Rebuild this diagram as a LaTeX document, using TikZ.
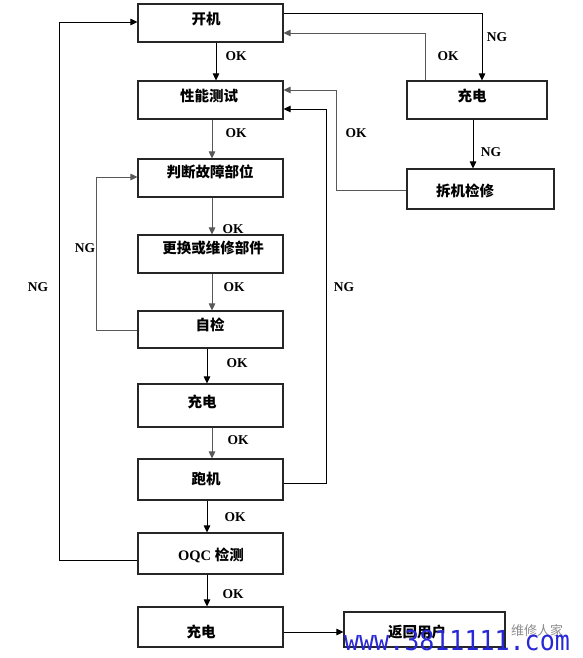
\documentclass[tikz,border=0pt]{standalone}
\usepackage{fontspec}
\setmainfont{Liberation Serif}
\newfontfamily\cjk{Noto Sans CJK SC}
\newfontfamily\wmmono{DejaVu Sans Mono}
\usetikzlibrary{arrows.meta}
\begin{document}
\begin{tikzpicture}[x=1pt,y=-1pt,
  box/.style={draw=black!85,line width=1.1pt,rectangle,inner sep=0pt},
  txt/.style={font=\cjk\bfseries\fontsize{14.5}{14.5}\selectfont,inner sep=0pt},
  lab/.style={font=\bfseries\fontsize{13.5}{13.5}\selectfont,inner sep=0pt},
  arr/.style={draw=black,line width=0.9pt,-{Triangle[length=7pt,width=6.5pt]}},
  garr/.style={arr,draw=black!65},
  ln/.style={draw=black,line width=0.9pt}]
\useasboundingbox (0,0) rectangle (583,658);
% boxes
\node[box,minimum width=145pt,minimum height=38pt] (kaiji) at (210.5,23) {};
\node[box,minimum width=145pt,minimum height=38pt] (xingneng) at (210.5,100) {};
\node[box,minimum width=145pt,minimum height=38pt] (panduan) at (210.5,178) {};
\node[box,minimum width=145pt,minimum height=38pt] (genghuan) at (210.5,254) {};
\node[box,minimum width=145pt,minimum height=37pt] (zijian) at (210.5,329.5) {};
\node[box,minimum width=145pt,minimum height=43pt] (chong1) at (210.5,405.5) {};
\node[box,minimum width=145pt,minimum height=41pt] (paoji) at (210.5,479.5) {};
\node[box,minimum width=145pt,minimum height=41pt] (oqc) at (210.5,553.5) {};
\node[box,minimum width=145pt,minimum height=40pt] (chong2) at (210.5,627) {};
\node[box,minimum width=161pt,minimum height=35pt] (fanhui) at (424.5,629.5) {};
\node[box,minimum width=140pt,minimum height=38pt] (chongR) at (477,100) {};
\node[box,minimum width=147pt,minimum height=40pt] (chaiji) at (480.5,189) {};
% texts
\node[txt] (t1) at (206,19) {开机};
\node[txt] (t2) at (209,96) {性能测试};
\node[txt] (t3) at (210,172) {判断故障部位};
\node[txt] (t4) at (213,248) {更换或维修部件};
\node[txt] (t5) at (210,325) {自检};
\node[txt] (t6) at (202,402) {充电};
\node[txt] (t7) at (206,479) {跑机};
\node[inner sep=0pt] (t8) at (211,555) {\fontsize{14.5}{14.5}\selectfont\bfseries OQC {\cjk 检测}};
\node[txt] (t9) at (201,632) {充电};
\node[txt] (t10) at (417,632) {返回用户};
\node[txt] (t11) at (472,96) {充电};
\node[txt] (t12) at (465,191) {拆机检修};
% vertical arrows
\draw[arr] ([xshift=5.5pt]kaiji.south) -- ([xshift=5.5pt]kaiji.south |- xingneng.north);
\draw[garr] ([xshift=1.5pt]xingneng.south) -- ([xshift=1.5pt]xingneng.south |- panduan.north);
\draw[garr] ([xshift=1.5pt]panduan.south) -- ([xshift=1.5pt]panduan.south |- genghuan.north);
\draw[garr] ([xshift=1.5pt]genghuan.south) -- ([xshift=1.5pt]genghuan.south |- zijian.north);
\draw[arr] ([xshift=-3.5pt]zijian.south) -- ([xshift=-3.5pt]zijian.south |- chong1.north);
\draw[garr] ([xshift=1.5pt]chong1.south) -- ([xshift=1.5pt]chong1.south |- paoji.north);
\draw[arr] ([xshift=-3.5pt]paoji.south) -- ([xshift=-3.5pt]paoji.south |- oqc.north);
\draw[arr] ([xshift=-3.5pt]oqc.south) -- ([xshift=-3.5pt]oqc.south |- chong2.north);
\draw[arr] ([yshift=-5pt]chong2.east) -- ([yshift=-5pt]chong2.east -| fanhui.west);
\draw[arr] ([xshift=-4pt]chongR.south) -- ([xshift=-4pt]chongR.south |- chaiji.north);
% loops
\draw[arr] ([yshift=10pt]kaiji.east) -| ([xshift=5pt]chongR.north);
\draw[garr] ([xshift=-52pt]chongR.north) |- ([yshift=-10pt]kaiji.east);
\draw[garr] ([yshift=-1.5pt]chaiji.west) -- ++(-70,0) |- ([yshift=10pt]xingneng.east);
\draw[arr] ([yshift=-3.5pt]paoji.east) -- ++(43,0) |- ([yshift=-9pt]xingneng.east);
\draw[arr] ([yshift=-6.5pt]oqc.west) -- ++(-78,0) |- ([yshift=1pt]kaiji.west);
\draw[garr] ([yshift=-0.5pt]zijian.west) -- ++(-41,0) |- ([yshift=1pt]panduan.west);
% labels
\node[lab] (ok1) at (236,56) {OK};
\node[lab] (ok2) at (236,133) {OK};
\node[lab] (ok3) at (233,229) {OK};
\node[lab] (ok4) at (234,287) {OK};
\node[lab] (ok5) at (237,363) {OK};
\node[lab] (ok6) at (238,440) {OK};
\node[lab] (ok7) at (235,517) {OK};
\node[lab] (ok8) at (233,594) {OK};
\node[lab] (ok9) at (448,56) {OK};
\node[lab] (ok10) at (356,133) {OK};
\node[lab] (ng1) at (497,37) {NG};
\node[lab] (ng2) at (491,152) {NG};
\node[lab] (ng3) at (85,248) {NG};
\node[lab] (ng4) at (38,287) {NG};
\node[lab] (ng5) at (344,287) {NG};
% watermark
\node[inner sep=0pt,text=black!45,font=\cjk\fontsize{13}{13}\selectfont] (wm1) at (537,631) {维修人家};
\node[inner sep=0pt,text={rgb,255:red,40;green,40;blue,215},font=\wmmono\fontsize{25}{25}\selectfont,yscale=1.1] (wm2) at (457,640) {www.3811111.com};
\end{tikzpicture}
\end{document}
